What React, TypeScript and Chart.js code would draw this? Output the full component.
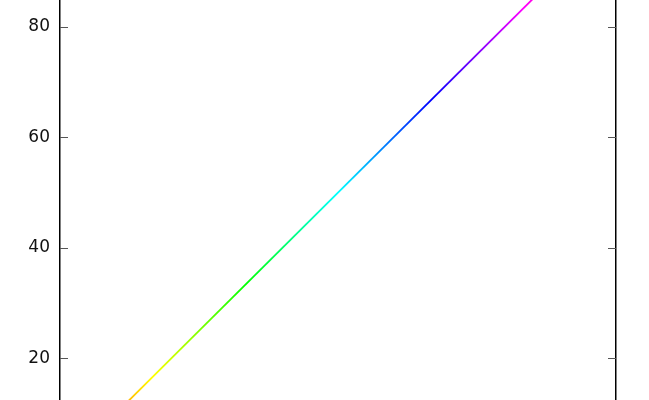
import { useEffect, useRef } from "react"
import { Chart, registerables } from "chart.js"

Chart.register(...registerables)

// the line runs y = x over the full range, coloured along its length by hue
const xValues = [0, 100]
const yValues = [0, 100]
const yTicks = [0, 20, 40, 60, 80, 100]
// hsv colormap stops (fraction of the value range -> colour)
const hueStops = [
  { at: 0, color: "#ff0000" },
  { at: 1 / 6, color: "#ffff00" },
  { at: 2 / 6, color: "#00ff00" },
  { at: 3 / 6, color: "#00ffff" },
  { at: 4 / 6, color: "#0000ff" },
  { at: 5 / 6, color: "#ff00ff" },
  { at: 1, color: "#ff0000" },
]

// small inward tick marks on both sides, like matplotlib's classic style
const innerTicks = {
  id: "innerTicks",
  afterDraw(chart: any) {
    const { ctx, chartArea, scales } = chart
    const y = scales.y
    ctx.save()
    ctx.strokeStyle = "#555"
    ctx.lineWidth = 1
    yTicks.forEach((v) => {
      const py = Math.round(y.getPixelForValue(v)) + 0.5
      ctx.beginPath()
      ctx.moveTo(chartArea.left, py)
      ctx.lineTo(chartArea.left + 8, py)
      ctx.moveTo(chartArea.right - 8, py)
      ctx.lineTo(chartArea.right, py)
      ctx.stroke()
    })
    ctx.restore()
  },
}

function HueLine() {
  const chartRef = useRef<HTMLCanvasElement>(null)
  const chartInstance = useRef<Chart | null>(null)

  useEffect(() => {
    if (!chartRef.current) return
    if (chartInstance.current) chartInstance.current.destroy()
    const ctx = chartRef.current.getContext("2d")
    if (!ctx) return

    chartInstance.current = new Chart(ctx, {
      type: "line",
      data: {
        datasets: [
          {
            data: xValues.map((x, i) => ({ x, y: yValues[i] })),
            borderWidth: 1.8,
            pointRadius: 0,
            tension: 0,
            borderColor: (c: any) => {
              const chart = c.chart
              const { scales } = chart
              if (!chart.chartArea || !scales.x) return "#ff0000"
              const g = chart.ctx.createLinearGradient(
                scales.x.getPixelForValue(xValues[0]),
                scales.y.getPixelForValue(yValues[0]),
                scales.x.getPixelForValue(xValues[xValues.length - 1]),
                scales.y.getPixelForValue(yValues[yValues.length - 1])
              )
              hueStops.forEach((s) => g.addColorStop(s.at, s.color))
              return g
            },
          },
        ],
      },
      options: {
        responsive: true,
        maintainAspectRatio: false,
        animation: false,
        layout: { padding: { top: 11, bottom: 31, left: 0, right: 0 } },
        plugins: { legend: { display: false }, tooltip: { enabled: false } },
        scales: {
          x: {
            type: "linear",
            min: 0,
            max: 100,
            display: false,
          },
          y: {
            type: "linear",
            position: "left",
            min: 0,
            max: 100,
            afterBuildTicks: (axis: any) => {
              axis.ticks = yTicks.map((value) => ({ value }))
            },
            afterFit: (axis: any) => {
              axis.width = 60
            },
            grid: { display: false, drawTicks: false },
            border: { display: true, color: "#000", width: 1.5 },
            ticks: {
              padding: 10,
              color: "#111",
              font: { family: "DejaVu Sans", size: 17 },
            },
          },
          y2: {
            type: "linear",
            position: "right",
            min: 0,
            max: 100,
            afterFit: (axis: any) => {
              axis.width = 33
            },
            grid: { display: false, drawTicks: false },
            border: { display: true, color: "#000", width: 1.5 },
            ticks: { display: false },
          },
        },
      },
      plugins: [innerTicks],
    })

    return () => {
      if (chartInstance.current) chartInstance.current.destroy()
    }
  }, [])

  return <canvas ref={chartRef} />
}

export default function App() {
  return (
    <div
      style={{
        position: "fixed",
        left: 0,
        top: 0,
        width: 649,
        height: 400,
        overflow: "hidden",
        background: "#fff",
      }}
    >
      <div style={{ position: "absolute", left: 0, top: -104, width: 649, height: 604 }}>
        <HueLine />
      </div>
    </div>
  )
}
